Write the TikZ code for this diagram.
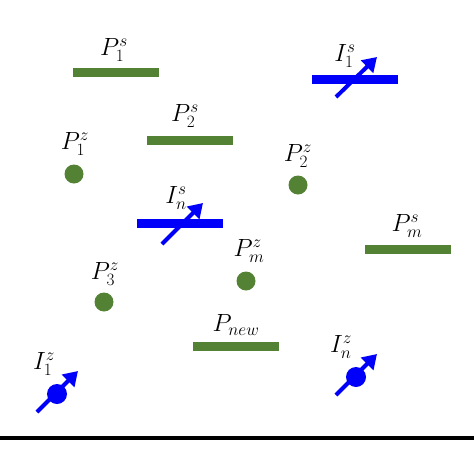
\documentclass[tikz,border=0pt]{standalone}
\usetikzlibrary{arrows.meta}
\definecolor{leaf}{RGB}{84,130,53}
\definecolor{spinblue}{RGB}{0,0,250}

\begin{document}
\begin{tikzpicture}[x=1pt, y=-1pt,
        bar/.style={fill=leaf, minimum width=86pt, minimum height=9pt, inner sep=0pt},
        ibar/.style={fill=spinblue, minimum width=86pt, minimum height=9pt, inner sep=0pt},
        dot/.style={circle, fill=leaf, minimum size=19pt, inner sep=0pt},
        idot/.style={circle, fill=spinblue, minimum size=20pt, inner sep=0pt},
        lbl/.style={inner sep=0pt, font=\fontsize{27}{32}\selectfont},
        spin/.style={draw=spinblue, line width=4pt, -{Triangle[length=14pt,width=17pt]}}
    ]
        \useasboundingbox (0,0) rectangle (474,474);
        % green bars and dots
        \node[bar] (PS1) at (116,72) {};
        \node[bar] (PS2) at (190,140) {};
        \node[bar] (PSm) at (408,249) {};
        \node[bar] (Pnew) at (236,346) {};
        \node[dot] (PZ1) at (74,174) {};
        \node[dot] (PZ2) at (298,185) {};
        \node[dot] (PZ3) at (104,302) {};
        \node[dot] (PZm) at (246,281) {};
        % blue bars and dots
        \node[ibar] (IS1) at (355,79) {};
        \node[ibar] (ISn) at (180,223) {};
        \node[idot] (IZ1) at (57,394) {};
        \node[idot] (IZn) at (356,377) {};
        % labels
        \node[lbl] (tPS1) at (114,50) {$P_1^s$};
        \node[lbl] (tPS2) at (185,116) {$P_2^s$};
        \node[lbl] (tPSm) at (407,226) {$P_m^s$};
        \node[lbl] (tPnew) at (236,325) {$P_{new}$};
        \node[lbl] (tPZ1) at (75,144) {$P_1^z$};
        \node[lbl] (tPZ2) at (298,156) {$P_2^z$};
        \node[lbl] (tPZ3) at (105,274) {$P_3^z$};
        \node[lbl] (tPZm) at (249,251) {$P_m^z$};
        \node[lbl] (tIS1) at (345,56) {$I_1^s$};
        \node[lbl] (tISn) at (176,198) {$I_n^s$};
        \node[lbl] (tIZ1) at (44,364) {$I_1^z$};
        \node[lbl] (tIZn) at (341,347) {$I_n^z$};
        % spin arrows
        \coordinate (a1) at (336,97);  \coordinate (b1) at (377,57);
        \coordinate (a2) at (162,244); \coordinate (b2) at (203,203);
        \coordinate (a3) at (37,412);  \coordinate (b3) at (78,371);
        \coordinate (a4) at (336,395); \coordinate (b4) at (377,354);
        \draw[spin] (a1) -- (b1);
        \draw[spin] (a2) -- (b2);
        \draw[spin] (a3) -- (b3);
        \draw[spin] (a4) -- (b4);
        % base line
        \coordinate (g0) at (0,438); \coordinate (g1) at (474,438);
        \draw[line width=4pt] (g0) -- (g1);
    \end{tikzpicture}
\end{document}
